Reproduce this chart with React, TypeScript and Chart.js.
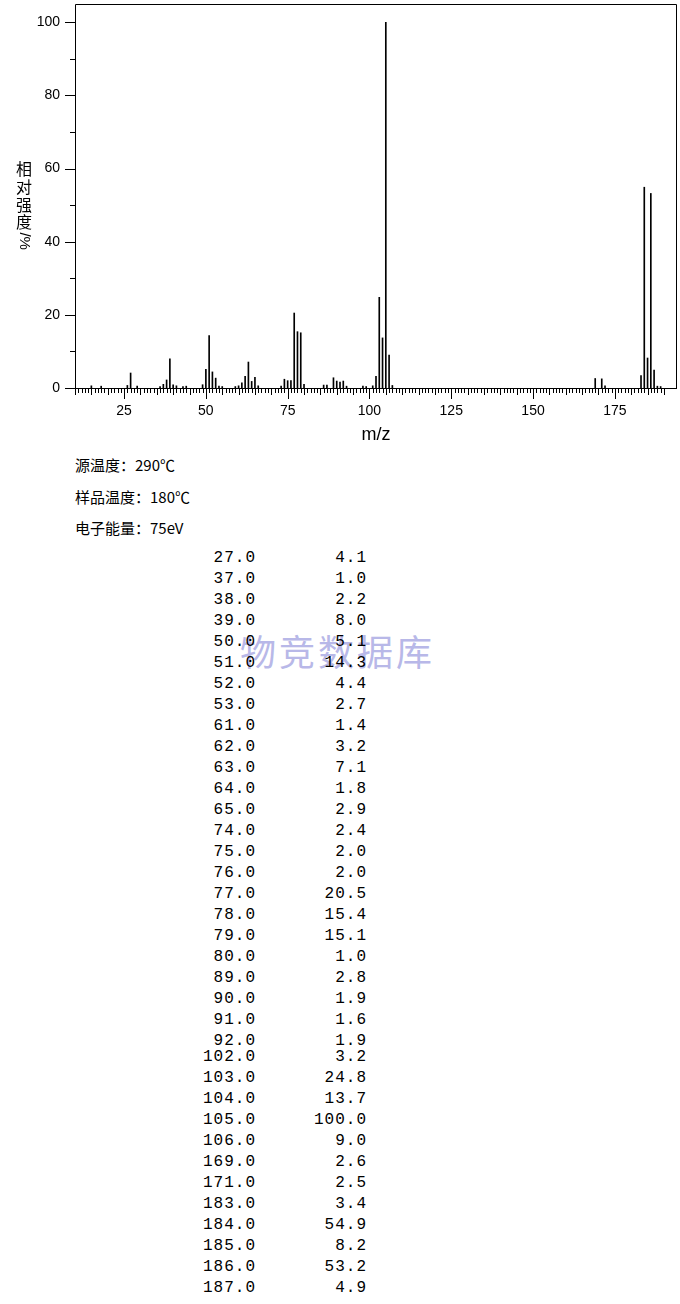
import React, { useEffect, useRef } from 'react';
import { Chart, registerables } from 'chart.js';

Chart.register(...registerables);

// Listed peaks (m/z, relative intensity %)
const listedMz = [27, 37, 38, 39, 50, 51, 52, 53, 61, 62, 63, 64, 65, 74, 75, 76, 77, 78, 79, 80, 89, 90, 91, 92, 102, 103, 104, 105, 106, 169, 171, 183, 184, 185, 186, 187];
const listedIntensity = [4.1, 1.0, 2.2, 8.0, 5.1, 14.3, 4.4, 2.7, 1.4, 3.2, 7.1, 1.8, 2.9, 2.4, 2.0, 2.0, 20.5, 15.4, 15.1, 1.0, 2.8, 1.9, 1.6, 1.9, 3.2, 24.8, 13.7, 100.0, 9.0, 2.6, 2.5, 3.4, 54.9, 8.2, 53.2, 4.9];

// Small unlisted peaks visible in the spectrum (estimated)
const minorMz = [15, 18, 26, 29, 36, 40, 41, 43, 44, 49, 54, 55, 59, 60, 66, 73, 86, 87, 93, 98, 99, 101, 107, 172, 188, 189];
const minorIntensity = [0.6, 0.5, 0.7, 0.5, 0.4, 0.9, 0.6, 0.4, 0.5, 0.9, 0.5, 0.4, 0.4, 0.6, 0.6, 0.5, 0.8, 0.8, 0.5, 0.5, 0.4, 0.6, 0.7, 0.6, 0.5, 0.4];

const xTickLabels = [25, 50, 75, 100, 125, 150, 175];
const yTickLabels = [0, 20, 40, 60, 80, 100];
const yMinorTicks = [10, 30, 50, 70, 90];
const xTickFirst = 10;
const xTickLast = 190;

const yTitleChars = ['相', '对', '强', '度'];
const yTitleTail = '/%';
const xTitle = 'm/z';

const infoLines = ['源温度：290℃', '样品温度：180℃', '电子能量：75eV'];
const watermark = '物竞数据库';

const framePlugin = {
  id: 'frameTicks',
  afterDatasetsDraw(chart: any) {
    const { ctx, chartArea: a, scales } = chart;
    const x = scales.x;
    const y = scales.y;
    ctx.save();
    ctx.strokeStyle = '#000';
    ctx.lineWidth = 1;
    ctx.beginPath();
    // frame
    ctx.moveTo(a.left + 0.5, a.bottom + 0.5);
    ctx.lineTo(a.left + 0.5, a.top + 0.5);
    ctx.lineTo(a.right - 0.5, a.top + 0.5);
    ctx.lineTo(a.right - 0.5, a.bottom + 0.5);
    ctx.moveTo(a.left, a.bottom + 0.5);
    ctx.lineTo(a.right, a.bottom + 0.5);
    // x ticks
    for (let v = xTickFirst; v <= xTickLast; v++) {
      const px = Math.round(x.getPixelForValue(v)) + 0.5;
      const len = v % 25 === 0 ? 11 : v % 5 === 0 ? 7 : 5;
      ctx.moveTo(px, a.bottom);
      ctx.lineTo(px, a.bottom + len);
    }
    // y ticks
    yTickLabels.forEach((v) => {
      const py = Math.round(y.getPixelForValue(v)) + 0.5;
      ctx.moveTo(a.left - 10, py);
      ctx.lineTo(a.left, py);
    });
    yMinorTicks.forEach((v) => {
      const py = Math.round(y.getPixelForValue(v)) + 0.5;
      ctx.moveTo(a.left - 5, py);
      ctx.lineTo(a.left, py);
    });
    ctx.stroke();

    // y title (vertical stack)
    ctx.fillStyle = '#000';
    ctx.textAlign = 'center';
    ctx.textBaseline = 'middle';
    ctx.font = '16px "Noto Sans CJK SC"';
    const cx = 24;
    const startY = 169;
    const step = 17.8;
    yTitleChars.forEach((c, i) => {
      ctx.fillText(c, cx, startY + i * step);
    });
    ctx.save();
    ctx.translate(cx, startY + yTitleChars.length * step + 1);
    ctx.rotate(Math.PI / 2);
    ctx.font = '15px "Liberation Sans"';
    ctx.fillText(yTitleTail, 0, 0);
    ctx.restore();
    ctx.restore();
  },
};

export default function App() {
  const canvasRef = useRef<HTMLCanvasElement | null>(null);

  useEffect(() => {
    document.body.style.margin = '0';
    const canvas = canvasRef.current;
    if (!canvas) return;
    const allMz = [...minorMz, ...listedMz];
    const allInt = [...minorIntensity, ...listedIntensity];
    const points = allMz.map((m, i) => ({ x: m, y: allInt[i] }));
    const tickFont = { family: '"Liberation Sans", Arial, sans-serif', size: 14 };
    const chart = new Chart(canvas, {
      type: 'bar',
      data: {
        datasets: [
          {
            data: points as any,
            backgroundColor: '#000',
            borderWidth: 0,
            barThickness: 1,
          },
        ],
      },
      options: {
        responsive: false,
        animation: false,
        devicePixelRatio: 1,
        layout: { padding: { top: 4, right: 3, left: 0, bottom: 0 } },
        plugins: {
          legend: { display: false },
          tooltip: { enabled: false },
        },
        scales: {
          x: {
            type: 'linear',
            min: 10,
            max: 194,
            offset: false,
            grid: { display: false, drawTicks: false },
            border: { display: false },
            afterBuildTicks: (s: any) => {
              s.ticks = xTickLabels.map((v) => ({ value: v }));
            },
            afterFit: (s: any) => {
              s.height = 62;
              s.paddingLeft = 0;
              s.paddingRight = 0;
            },
            ticks: {
              autoSkip: false,
              maxRotation: 0,
              padding: 15,
              color: '#000',
              font: tickFont,
            },
            title: {
              display: true,
              text: xTitle,
              color: '#000',
              font: { family: '"Liberation Sans", Arial, sans-serif', size: 18 },
              padding: { top: 0, bottom: 4 },
            },
          } as any,
          y: {
            type: 'linear',
            min: 0,
            max: 105,
            grid: { display: false, drawTicks: false },
            border: { display: false },
            afterBuildTicks: (s: any) => {
              s.ticks = yTickLabels.map((v) => ({ value: v }));
            },
            afterFit: (s: any) => {
              s.width = 75;
              s.paddingTop = 0;
              s.paddingBottom = 0;
            },
            ticks: {
              autoSkip: false,
              padding: 15,
              color: '#000',
              font: tickFont,
            },
          } as any,
        },
      },
      plugins: [framePlugin],
    });
    return () => chart.destroy();
  }, []);

  const rowCenters = listedMz.map((_, i) => (i <= 23 ? 558 + 21 * i : 558 + 21 * 23 + 16 + 21 * (i - 24)));

  const cellStyle = (right: number, top: number): React.CSSProperties => ({
    position: 'absolute',
    left: 0,
    width: right,
    top,
    height: 20,
    lineHeight: '20px',
    textAlign: 'right',
    fontFamily: '"Liberation Mono", monospace',
    fontSize: 16,
    letterSpacing: 1,
    color: '#000',
    whiteSpace: 'nowrap',
  });

  return (
    <div style={{ position: 'relative', width: 680, height: 1304, background: '#fff' }}>
      <canvas ref={canvasRef} width={680} height={450} style={{ position: 'absolute', left: 0, top: 0, width: 680, height: 450 }} />
      {infoLines.map((t, i) => (
        <div
          key={t}
          style={{
            position: 'absolute',
            left: 75,
            top: 465 + i * 31.5 - 10,
            height: 20,
            lineHeight: '20px',
            fontSize: 15,
            fontFamily: '"Noto Sans CJK SC", sans-serif',
            color: '#000',
            whiteSpace: 'nowrap',
          }}
        >
          {t}
        </div>
      ))}
      <div
        style={{
          position: 'absolute',
          left: 240,
          top: 650 - 25,
          height: 50,
          lineHeight: '50px',
          fontSize: 36,
          letterSpacing: 3,
          fontFamily: '"Noto Sans CJK SC", sans-serif',
          color: 'rgb(184,184,232)',
          whiteSpace: 'nowrap',
        }}
      >
        {watermark}
      </div>
      {listedMz.map((m, i) => (
        <React.Fragment key={m}>
          <div style={cellStyle(256, rowCenters[i] - 10)}>{m.toFixed(1)}</div>
          <div style={cellStyle(367, rowCenters[i] - 10)}>{listedIntensity[i].toFixed(1)}</div>
        </React.Fragment>
      ))}
    </div>
  );
}
